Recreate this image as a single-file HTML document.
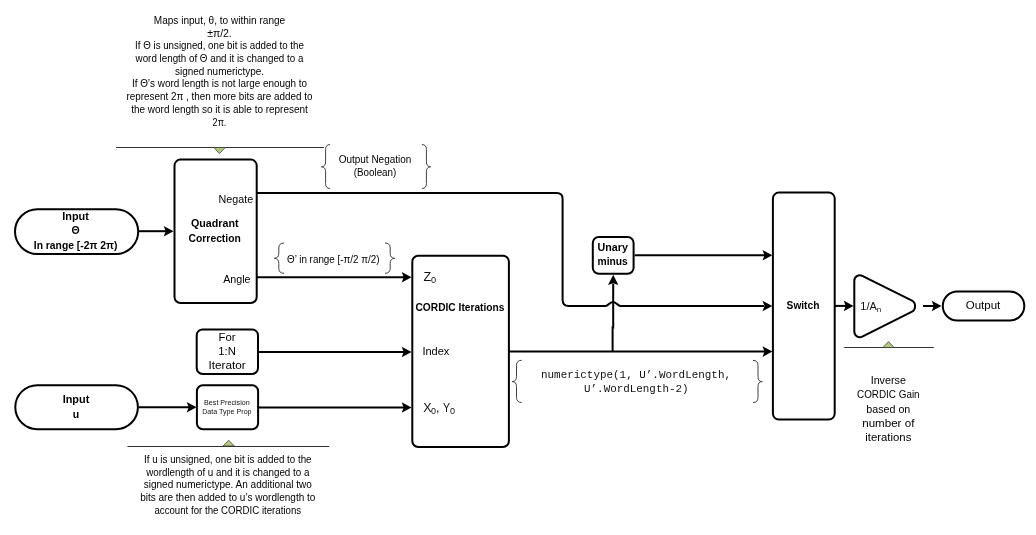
<!DOCTYPE html>
<html><head><meta charset="utf-8"><style>
html,body{margin:0;padding:0;background:#fff;}
body{width:1036px;height:535px;overflow:hidden;}
svg{display:block;will-change:transform;font-family:"Liberation Sans",sans-serif;}
.k{stroke:#000;stroke-width:2;fill:none;}
.bx{stroke:#000;stroke-width:2;fill:#fff;}
.th{stroke:#333;stroke-width:1.2;fill:none;}
.tri{fill:#b3c87b;stroke:#333;stroke-width:0.7;}
.br{stroke:#404040;stroke-width:1;fill:none;}
</style></head><body>
<svg width="1036" height="535" viewBox="0 0 1036 535">
<text x="219.5" y="23.7" font-size="10" text-anchor="middle" textLength="131.4" lengthAdjust="spacingAndGlyphs" fill="#000">Maps input, θ, to within range</text>
<text x="219.5" y="36.5" font-size="10" text-anchor="middle" textLength="24.6" lengthAdjust="spacingAndGlyphs" fill="#000">±π/2.</text>
<text x="219.5" y="49.2" font-size="10" text-anchor="middle" textLength="168.8" lengthAdjust="spacingAndGlyphs" fill="#000">If Θ is unsigned, one bit is added to the</text>
<text x="219.5" y="62.0" font-size="10" text-anchor="middle" textLength="167.8" lengthAdjust="spacingAndGlyphs" fill="#000">word length of Θ and it is changed to a</text>
<text x="219.5" y="74.6" font-size="10" text-anchor="middle" textLength="89.0" lengthAdjust="spacingAndGlyphs" fill="#000">signed numerictype.</text>
<text x="219.5" y="87.4" font-size="10" text-anchor="middle" textLength="175.20000000000002" lengthAdjust="spacingAndGlyphs" fill="#000">If Θ’s word length is not large enough to</text>
<text x="219.5" y="100.0" font-size="10" text-anchor="middle" textLength="186.0" lengthAdjust="spacingAndGlyphs" fill="#000">represent 2π , then more bits are added to</text>
<text x="219.5" y="112.6" font-size="10" text-anchor="middle" textLength="176.5" lengthAdjust="spacingAndGlyphs" fill="#000">the word length so it is able to represent</text>
<text x="219.5" y="125.9" font-size="10" text-anchor="middle" textLength="13.8" lengthAdjust="spacingAndGlyphs" fill="#000">2π.</text>
<line x1="116" y1="147.5" x2="323.9" y2="147.5" class="th"/>
<polygon points="213.8,147.5 225.2,147.5 219.5,153.7" class="tri"/>
<path d="M330.1,144.5 Q325.6,144.5 325.6,149.5 L325.6,161.8 Q325.6,166.8 321.3,166.8 Q325.6,166.8 325.6,171.8 L325.6,183.5 Q325.6,188.5 330.1,188.5" class="br"/>
<path d="M421.9,144.5 Q426.4,144.5 426.4,149.5 L426.4,161.8 Q426.4,166.8 430.7,166.8 Q426.4,166.8 426.4,171.8 L426.4,183.5 Q426.4,188.5 421.9,188.5" class="br"/>
<text x="375" y="162.9" font-size="10" text-anchor="middle" textLength="72.7" lengthAdjust="spacingAndGlyphs" fill="#000">Output Negation</text>
<text x="375" y="175.8" font-size="10" text-anchor="middle" textLength="42.5" lengthAdjust="spacingAndGlyphs" fill="#000">(Boolean)</text>
<rect x="15" y="209.2" width="123.2" height="44.8" rx="22.4" class="bx"/>
<text x="75.6" y="220" font-size="10.5" text-anchor="middle" font-weight="bold" textLength="26.6" lengthAdjust="spacingAndGlyphs" fill="#000">Input</text>
<text x="75.6" y="234" font-size="10.5" text-anchor="middle" font-weight="bold" fill="#000">Θ</text>
<text x="75.6" y="249" font-size="10.5" text-anchor="middle" font-weight="bold" textLength="83.6" lengthAdjust="spacingAndGlyphs" fill="#000">In range [-2π 2π)</text>
<line x1="139" y1="231.2" x2="166.2" y2="231.2" class="k"/>
<polygon points="163.7,225.89999999999998 173.5,231.2 163.7,236.5 165.7,231.2" fill="#000"/>
<rect x="174.5" y="159.6" width="82.2" height="143.4" rx="6" class="bx"/>
<text x="253.2" y="202.7" font-size="10.3" text-anchor="end" textLength="34.6" lengthAdjust="spacingAndGlyphs" fill="#000">Negate</text>
<text x="214.7" y="227.1" font-size="10.5" text-anchor="middle" font-weight="bold" textLength="47.6" lengthAdjust="spacingAndGlyphs" fill="#000">Quadrant</text>
<text x="214.7" y="241.5" font-size="10.5" text-anchor="middle" font-weight="bold" textLength="52.2" lengthAdjust="spacingAndGlyphs" fill="#000">Correction</text>
<text x="250.6" y="283" font-size="10.3" text-anchor="end" textLength="27.4" lengthAdjust="spacingAndGlyphs" fill="#000">Angle</text>
<path d="M256.7,193 L556.6,193 Q562.6,193 562.6,199 L562.6,300 Q562.6,306 568.6,306 L605.5,306 C608.5,306 609,302 613,302 C617,302 617.5,306 620.5,306 L764,306" class="k"/>
<polygon points="762.5,300.7 772.3,306 762.5,311.3 764.5,306" fill="#000"/>
<path d="M284,243 Q278.8,243 278.8,248 L278.8,253.3 Q278.8,258.3 274.2,258.3 Q278.8,258.3 278.8,263.3 L278.8,268.3 Q278.8,273.3 284,273.3" class="br"/>
<path d="M385,243 Q390.2,243 390.2,248 L390.2,253.3 Q390.2,258.3 394.7,258.3 Q390.2,258.3 390.2,263.3 L390.2,268.3 Q390.2,273.3 385,273.3" class="br"/>
<text x="287" y="262.5" font-size="10" textLength="92.6" lengthAdjust="spacingAndGlyphs" fill="#000">Θ’ in range [-π/2 π/2)</text>
<line x1="256.7" y1="277.2" x2="404.2" y2="277.2" class="k"/>
<polygon points="401.7,271.9 411.5,277.2 401.7,282.5 403.7,277.2" fill="#000"/>
<rect x="412.3" y="255.7" width="96.6" height="191.3" rx="6" class="bx"/>
<text x="423.4" y="280.6" font-size="12.5" fill="#111">Z</text><text x="430.9" y="282.8" font-size="9.2" fill="#111">0</text>
<text x="460" y="311" font-size="10.3" text-anchor="middle" font-weight="bold" textLength="89" lengthAdjust="spacingAndGlyphs" fill="#000">CORDIC Iterations</text>
<text x="422.4" y="355" font-size="10.3" textLength="27" lengthAdjust="spacingAndGlyphs" fill="#000">Index</text>
<text x="423.2" y="411.9" font-size="12.5" fill="#111">X</text><text x="431" y="414" font-size="9" fill="#111">0</text><text x="436" y="411.9" font-size="12.5" fill="#111">,</text><text x="443.1" y="411.9" font-size="12.5" fill="#111" textLength="7" lengthAdjust="spacingAndGlyphs">Y</text><text x="449.9" y="414" font-size="9" fill="#111">0</text>
<rect x="196.7" y="329.4" width="61.3" height="44.6" rx="6" class="bx"/>
<text x="227.1" y="340.8" font-size="11.3" text-anchor="middle" fill="#000">For</text>
<text x="227.1" y="355" font-size="11.3" text-anchor="middle" fill="#000">1:N</text>
<text x="227.1" y="369.4" font-size="11.3" text-anchor="middle" textLength="37.3" lengthAdjust="spacingAndGlyphs" fill="#000">Iterator</text>
<line x1="258" y1="352" x2="404.2" y2="352" class="k"/>
<polygon points="401.7,346.7 411.5,352 401.7,357.3 403.7,352" fill="#000"/>
<rect x="196.9" y="385.3" width="61.2" height="43.9" rx="6" class="bx"/>
<text x="226.9" y="404.7" font-size="7" text-anchor="middle" textLength="45.6" lengthAdjust="spacingAndGlyphs" fill="#111">Best Precision</text>
<text x="226.9" y="414.3" font-size="7" text-anchor="middle" textLength="49.4" lengthAdjust="spacingAndGlyphs" fill="#111">Data Type Prop</text>
<line x1="258" y1="407.5" x2="404.2" y2="407.5" class="k"/>
<polygon points="401.7,402.2 411.5,407.5 401.7,412.8 403.7,407.5" fill="#000"/>
<rect x="15.3" y="385.2" width="122.6" height="44" rx="22" class="bx"/>
<text x="76" y="403.2" font-size="10.5" text-anchor="middle" font-weight="bold" textLength="26.6" lengthAdjust="spacingAndGlyphs" fill="#000">Input</text>
<text x="76" y="417.6" font-size="10.5" text-anchor="middle" font-weight="bold" fill="#000">u</text>
<line x1="138.6" y1="407.2" x2="189.2" y2="407.2" class="k"/>
<polygon points="186.7,401.9 196.5,407.2 186.7,412.5 188.7,407.2" fill="#000"/>
<line x1="127.4" y1="446.5" x2="329.2" y2="446.5" class="th"/>
<polygon points="223,446 234.3,446 228.7,440.2" class="tri"/>
<text x="227.8" y="462.9" font-size="10" text-anchor="middle" textLength="167.5" lengthAdjust="spacingAndGlyphs" fill="#000">If u is unsigned, one bit is added to the</text>
<text x="227.8" y="475.6" font-size="10" text-anchor="middle" textLength="163.3" lengthAdjust="spacingAndGlyphs" fill="#000">wordlength of u and it is changed to a</text>
<text x="227.8" y="488.3" font-size="10" text-anchor="middle" textLength="168.10000000000002" lengthAdjust="spacingAndGlyphs" fill="#000">signed numerictype. An additional two</text>
<text x="227.8" y="501.0" font-size="10" text-anchor="middle" textLength="175.20000000000002" lengthAdjust="spacingAndGlyphs" fill="#000">bits are then added to u’s wordlength to</text>
<text x="227.8" y="513.6" font-size="10" text-anchor="middle" textLength="146.70000000000002" lengthAdjust="spacingAndGlyphs" fill="#000">account for the CORDIC iterations</text>
<line x1="509" y1="351.6" x2="765.0" y2="351.6" class="k"/>
<polygon points="762.5,346.3 772.3,351.6 762.5,356.90000000000003 764.5,351.6" fill="#000"/>
<path d="M612.6,351.6 L612.6,327.5 L613.2,327.5 L613.2,283.8" class="k"/>
<polygon points="608,285 613.2,274.7 618.4,285 613.2,283.3" fill="#000"/>
<path d="M521.7,360.3 Q516.5,360.3 516.5,365.3 L516.5,376.6 Q516.5,381.6 512.2,381.6 Q516.5,381.6 516.5,386.6 L516.5,397.5 Q516.5,402.5 521.7,402.5" class="br"/>
<path d="M753,360.3 Q758,360.3 758,365.3 L758,376.6 Q758,381.6 762.3,381.6 Q758,381.6 758,386.6 L758,397.5 Q758,402.5 753,402.5" class="br"/>
<text x="636" y="377.8" font-size="10.8" text-anchor="middle" textLength="190" lengthAdjust="spacingAndGlyphs" font-family="Liberation Mono" fill="#111">numerictype(1, U’.WordLength,</text>
<text x="636.3" y="392" font-size="10.8" text-anchor="middle" textLength="104.5" lengthAdjust="spacingAndGlyphs" font-family="Liberation Mono" fill="#111">U’.WordLength-2)</text>
<rect x="592.8" y="237" width="40.8" height="36.7" rx="6" class="bx"/>
<text x="612.7" y="251" font-size="10.5" text-anchor="middle" font-weight="bold" textLength="30.3" lengthAdjust="spacingAndGlyphs" fill="#000">Unary</text>
<text x="612.7" y="265.4" font-size="10.5" text-anchor="middle" font-weight="bold" textLength="30.3" lengthAdjust="spacingAndGlyphs" fill="#000">minus</text>
<line x1="634.6" y1="255.2" x2="765.0" y2="255.2" class="k"/>
<polygon points="762.5,249.89999999999998 772.3,255.2 762.5,260.5 764.5,255.2" fill="#000"/>
<rect x="772.9" y="192.6" width="61.8" height="227" rx="6" class="bx"/>
<text x="803" y="308.5" font-size="10.3" text-anchor="middle" font-weight="bold" textLength="32.8" lengthAdjust="spacingAndGlyphs" fill="#000">Switch</text>
<line x1="834.7" y1="305.9" x2="846.2" y2="305.9" class="k"/>
<polygon points="843.7,300.59999999999997 853.5,305.9 843.7,311.2 845.7,305.9" fill="#000"/>
<path d="M854.30,280.70 A5.5,5.5 0 0 1 862.26,275.79 L911.55,300.47 A6.4,6.4 0 0 1 911.55,311.92 L862.26,336.53 A5.5,5.5 0 0 1 854.30,331.61 Z" class="bx"/>
<text x="860.3" y="310.1" font-size="11" fill="#111">1/A<tspan font-size="8" dy="2">n</tspan></text>
<line x1="923" y1="306" x2="934.2" y2="306" class="k"/>
<polygon points="931.7,300.7 941.5,306 931.7,311.3 933.7,306" fill="#000"/>
<rect x="942.8" y="291.6" width="81.5" height="28.8" rx="14.4" class="bx"/>
<text x="983" y="308.9" font-size="11" text-anchor="middle" textLength="34.6" lengthAdjust="spacingAndGlyphs" fill="#000">Output</text>
<line x1="844.2" y1="347.5" x2="933.8" y2="347.5" class="th"/>
<polygon points="882.9,347.5 894.2,347.5 888.5,341.6" class="tri"/>
<text x="888.3" y="383.9" font-size="10.3" text-anchor="middle" textLength="35.3" lengthAdjust="spacingAndGlyphs" fill="#000">Inverse</text>
<text x="888.3" y="398.4" font-size="10.3" text-anchor="middle" textLength="62.6" lengthAdjust="spacingAndGlyphs" fill="#000">CORDIC Gain</text>
<text x="888.3" y="412.5" font-size="10.3" text-anchor="middle" textLength="44" lengthAdjust="spacingAndGlyphs" fill="#000">based on</text>
<text x="888.3" y="426.8" font-size="10.3" text-anchor="middle" textLength="52.2" lengthAdjust="spacingAndGlyphs" fill="#000">number of</text>
<text x="888.3" y="441.1" font-size="10.3" text-anchor="middle" textLength="46.2" lengthAdjust="spacingAndGlyphs" fill="#000">iterations</text>
</svg>
</body></html>
